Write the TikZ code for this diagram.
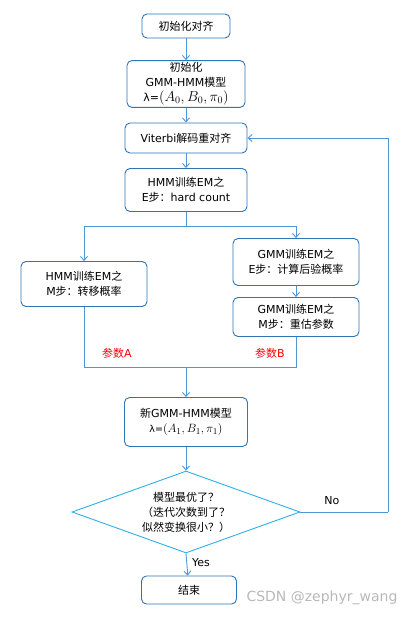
\documentclass[tikz,border=0pt]{standalone}
\usepackage{fontspec}
\setmainfont{DejaVu Sans}
\newfontfamily\zh{Noto Sans CJK SC}
\usetikzlibrary{shapes.geometric,arrows.meta}
\definecolor{boxblue}{RGB}{46,117,182}
\definecolor{lineblue}{RGB}{79,150,214}
\definecolor{diablue}{RGB}{45,175,235}
\newcommand{\zc}[1]{{\zh #1}}
\newcommand{\lam}[3]{λ={\fontsize{#1}{#1}\selectfont$#2$}}

\begin{document}
\begin{tikzpicture}
  [x=1pt,y=-1pt,font=\fontsize{11}{15}\selectfont,
   box/.style={draw=boxblue,line width=.9pt,rounded corners=5pt,align=center,inner sep=2pt,fill=white},
   decision/.style={diamond,draw=diablue,line width=.9pt,align=center,inner sep=0pt,aspect=2.78},
   link/.style={draw=lineblue,line width=.9pt},
   flow/.style={link,-{Straight Barb[length=4pt,width=7pt]}},
   note/.style={inner sep=1pt}]
  \useasboundingbox (0,0) rectangle (415,617);
  \node[box,minimum width=88,minimum height=24] (start) at (186,26) {\zc{初始化对齐}};
  \node[box,minimum width=118,minimum height=45] (init) at (186,84)
    {\zc{初始化}\\GMM-HMM\zc{模型}\\\lam{14}{(A_0,B_0,\pi_0)}{}};
  \node[box,minimum width=122,minimum height=30] (vit) at (186,138) {Viterbi\zc{解码重对齐}};
  \node[box,minimum width=122,minimum height=43] (hmme) at (186,190)
    {HMM\zc{训练}EM\zc{之}\\E\zc{步：}hard count};
  \node[box,minimum width=126,minimum height=45] (hmmm) at (84,284)
    {HMM\zc{训练}EM\zc{之}\\M\zc{步：转移概率}};
  \node[box,minimum width=126,minimum height=47] (gmme) at (296,262)
    {GMM\zc{训练}EM\zc{之}\\E\zc{步：计算后验概率}};
  \node[box,minimum width=126,minimum height=39] (gmmm) at (296,317)
    {GMM\zc{训练}EM\zc{之}\\M\zc{步：重估参数}};
  \node[box,minimum width=123,minimum height=49] (newm) at (186,422)
    {\zc{新}GMM-HMM\zc{模型}\\{\fontsize{9.5}{13}\selectfont\lam{12.5}{(A_1,B_1,\pi_1)}{}}};
  \node[decision,minimum width=228,minimum height=82] (dec) at (186,512)
    {\zc{模型最优了？}\\\zc{（迭代次数到了？}\\\zc{似然变换很小？）}};
  \node[box,minimum width=95,minimum height=28] (end) at (189,590) {\zc{结束}};
  \node[note,text=red] (parA) at (117,353) {\zc{参数}A};
  \node[note,text=red] (parB) at (270,353) {\zc{参数}B};
  \node[note,text=black!28,font=\fontsize{14}{16}\selectfont] (mark) at (322,598) {CSDN @zephyr\_wang};
  \coordinate (split) at (186,226);
  \coordinate (merge) at (186,367);
  \coordinate (back) at (388,512);
  \draw[flow] (start) -- (init);
  \draw[flow] (init) -- (vit);
  \draw[flow] (vit) -- (hmme);
  \draw[link] (hmme) -- (split);
  \draw[flow] (split) -| (hmmm);
  \draw[flow] (split) -| (gmme);
  \draw[flow] (gmme) -- (gmmm);
  \draw[link] (hmmm) |- (merge);
  \draw[link] (gmmm) |- (merge);
  \draw[flow] (merge) -- (newm);
  \draw[flow] (newm) -- (dec);
  \draw[flow] (dec.south) -- node[note,right=4pt,pos=.4] {Yes} (end);
  \draw[link] (dec) -- node[note,above=6pt,pos=.36] {No} (back);
  \draw[flow] (back) |- (vit);
\end{tikzpicture}
\end{document}
